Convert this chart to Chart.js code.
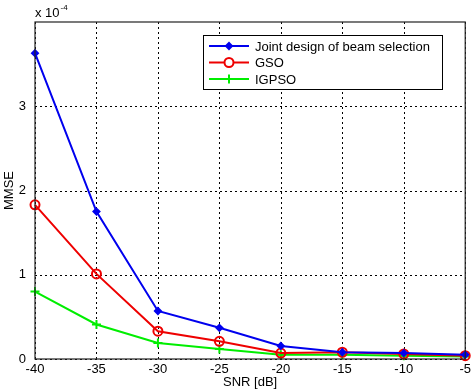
<!DOCTYPE html>
<html><head><meta charset="utf-8">
<script src="https://cdn.jsdelivr.net/npm/chart.js@4"></script>
<style>html,body{margin:0;padding:0;background:#fff;}canvas{display:block;}</style>
</head><body>
<canvas id="c" width="474" height="390"></canvas>
<script>
const snr = [-40, -35, -30, -25, -20, -15, -10, -5];
const joint = [3.63, 1.75, 0.57, 0.37, 0.155, 0.08, 0.07, 0.05];
const gso = [1.83, 1.01, 0.33, 0.21, 0.07, 0.08, 0.06, 0.04];
const igpso = [0.80, 0.41, 0.19, 0.12, 0.05, 0.05, 0.04, 0.03];
const seriesNames = ['Joint design of beam selection', 'GSO', 'IGPSO'];
const xTicks = [-40, -35, -30, -25, -20, -15, -10, -5];
const yTicks = [0, 1, 2, 3];

const FONT = '"Liberation Sans", Arial, Helvetica, sans-serif';
const pts = arr => arr.map((v, i) => ({x: snr[i], y: v}));

const styles = [
  {color: '#0000ee', pointStyle: 'rectRot', radius: 3, fill: true},
  {color: '#ee0000', pointStyle: 'circle', radius: 4.5, fill: false},
  {color: '#00ee00', pointStyle: 'cross', radius: 4.5, fill: false}
];
const allData = [joint, gso, igpso];

const gridPlugin = {
  id: 'gridPlugin',
  beforeDatasetsDraw(chart) {
    const {ctx, chartArea: a, scales} = chart;
    ctx.save();
    ctx.strokeStyle = '#000';
    ctx.lineWidth = 1;
    ctx.setLineDash([2, 3]);
    xTicks.forEach(v => {
      const x = Math.round(scales.x.getPixelForValue(v)) + 0.5;
      ctx.beginPath(); ctx.moveTo(x, a.top); ctx.lineTo(x, a.bottom); ctx.stroke();
    });
    yTicks.forEach(v => {
      const y = Math.round(scales.y.getPixelForValue(v)) + 0.5;
      ctx.beginPath(); ctx.moveTo(a.left, y); ctx.lineTo(a.right, y); ctx.stroke();
    });
    ctx.restore();
  }
};

const boxPlugin = {
  id: 'boxPlugin',
  afterDraw(chart) {
    const {ctx, chartArea: a} = chart;
    ctx.save();
    ctx.strokeStyle = '#222';
    ctx.lineWidth = 1.2;
    ctx.setLineDash([]);
    ctx.strokeRect(a.left, a.top, a.right - a.left, a.bottom - a.top);
    // exponent label
    ctx.fillStyle = '#000';
    ctx.textBaseline = 'alphabetic';
    ctx.textAlign = 'left';
    ctx.font = '13px ' + FONT;
    ctx.fillText('x 10', a.left, a.top - 5);
    const w = ctx.measureText('x 10').width;
    ctx.font = '8px ' + FONT;
    ctx.fillText('-4', a.left + w + 1, a.top - 12);
    // legend
    const lx = 203, ly = 35, lw = 239, lh = 54;
    ctx.fillStyle = '#fff';
    ctx.fillRect(lx, ly, lw, lh);
    ctx.strokeStyle = '#000';
    ctx.lineWidth = 1;
    ctx.strokeRect(lx + 0.5, ly + 0.5, lw, lh);
    ctx.font = '13px ' + FONT;
    ctx.textBaseline = 'middle';
    seriesNames.forEach((name, i) => {
      const y = ly + 11 + i * 16.5;
      const s = styles[i];
      ctx.strokeStyle = s.color;
      ctx.lineWidth = 2;
      ctx.beginPath(); ctx.moveTo(lx + 6, y); ctx.lineTo(lx + 46, y); ctx.stroke();
      ctx.fillStyle = s.fill ? s.color : '#fff';
      Chart.helpers.drawPoint(ctx, {pointStyle: s.pointStyle, radius: s.radius, borderWidth: 2, rotation: 0}, lx + 26, y);
      ctx.fillStyle = '#000';
      ctx.fillText(name, lx + 52, y + 1);
    });
    ctx.restore();
  }
};

new Chart(document.getElementById('c'), {
  type: 'line',
  data: {
    datasets: allData.map((d, i) => ({
      label: seriesNames[i],
      data: pts(d),
      borderColor: styles[i].color,
      backgroundColor: styles[i].fill ? styles[i].color : 'rgba(0,0,0,0)',
      borderWidth: 2,
      pointStyle: styles[i].pointStyle,
      pointRadius: styles[i].radius,
      pointBorderWidth: 2,
      pointBorderColor: styles[i].color,
      pointBackgroundColor: styles[i].fill ? styles[i].color : 'rgba(0,0,0,0)',
      tension: 0,
      clip: false
    }))
  },
  options: {
    responsive: false,
    animation: false,
    events: [],
    layout: {padding: {top: 22, right: 7, left: 0, bottom: 0}},
    plugins: {legend: {display: false}, tooltip: {enabled: false}},
    scales: {
      x: {
        type: 'linear', min: -40, max: -5,
        afterBuildTicks(s) { s.ticks = xTicks.map(v => ({value: v})); },
        afterFit(s) { s.height = 31; },
        grid: {display: false, drawTicks: false},
        border: {display: false},
        ticks: {color: '#000', font: {family: FONT, size: 13}, padding: 3, maxRotation: 0, autoSkip: false},
        title: {display: true, text: 'SNR [dB]', color: '#000', font: {family: FONT, size: 13}, padding: {top: 0, bottom: 0}}
      },
      y: {
        type: 'linear', min: 0, max: 4,
        afterBuildTicks(s) { s.ticks = yTicks.concat([4]).map(v => ({value: v})); },
        afterFit(s) { s.width = 35; },
        grid: {display: false, drawTicks: false},
        border: {display: false},
        ticks: {color: '#000', font: {family: FONT, size: 13}, padding: 9,
          callback: v => (v === 4 ? '' : String(v))},
        title: {display: true, text: 'MMSE', color: '#000', font: {family: FONT, size: 13}, padding: {top: 2, bottom: 0}}
      }
    }
  },
  plugins: [gridPlugin, boxPlugin]
});
</script>
</body></html>
